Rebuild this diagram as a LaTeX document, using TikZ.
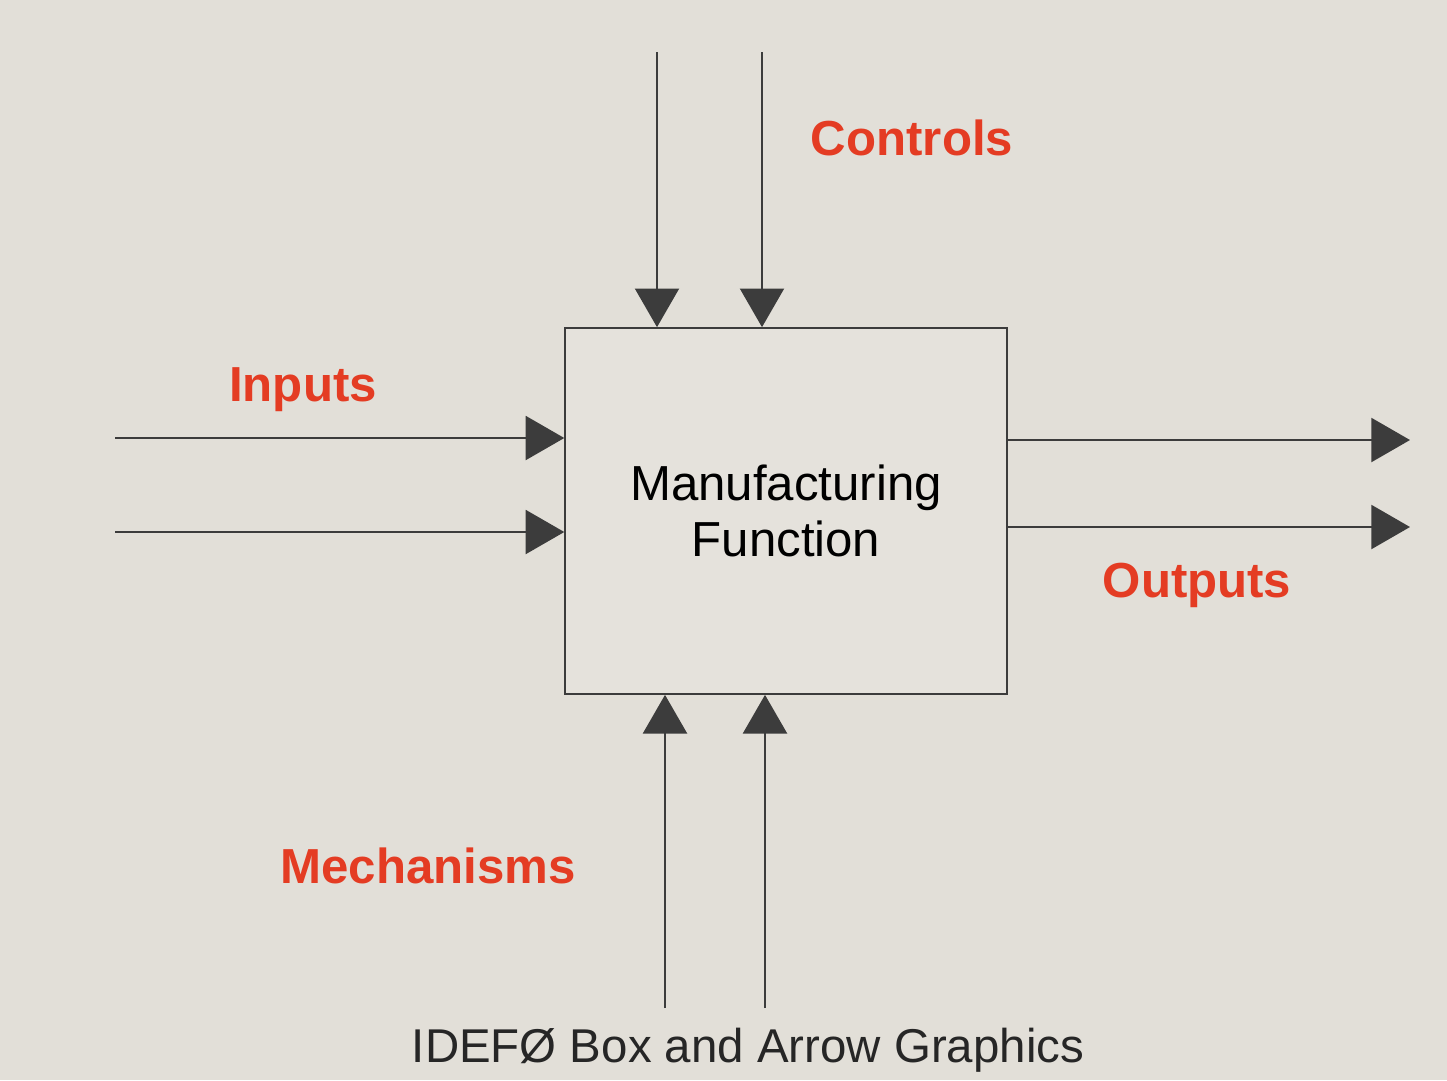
\documentclass[tikz,border=0pt]{standalone}
\usepackage{fontspec}
\setmainfont{Liberation Sans}
\usetikzlibrary{arrows.meta}
\definecolor{bg}{RGB}{226,223,216}
\definecolor{lbl}{RGB}{228,60,35}
\definecolor{ln}{RGB}{60,60,60}
\begin{document}
\begin{tikzpicture}[x=0.02cm,y=-0.02cm,
  lab/.style={text=lbl,font=\fontsize{28}{32}\selectfont\bfseries},
  arr/.style={draw=ln,line width=1.4pt,-{Triangle[length=22pt,width=25pt]}}]
\fill[bg] (0,0) rectangle (1447,1080);
\useasboundingbox (0,0) rectangle (1447,1080);
\node[draw=ln,line width=1.2pt,fill=bg!90!white,minimum width=443*0.567pt,minimum height=367*0.567pt,inner sep=0,
  align=center,font=\fontsize{28}{32}\selectfont] (box) at (786,511) {Manufacturing\\Function};
\coordinate (c1) at (657,52); \coordinate (c2) at (762,52);
\coordinate (i1) at (115,438); \coordinate (i2) at (115,532);
\coordinate (o1) at (1410,440); \coordinate (o2) at (1410,527);
\coordinate (m1) at (665,1008); \coordinate (m2) at (765,1008);
\draw[arr] (c1) -- (c1 |- box.north);
\draw[arr] (c2) -- (c2 |- box.north);
\draw[arr] (i1) -- (i1 -| box.west);
\draw[arr] (i2) -- (i2 -| box.west);
\draw[arr] (o1 -| box.east) -- (o1);
\draw[arr] (o2 -| box.east) -- (o2);
\draw[arr] (m1) -- (m1 |- box.south);
\draw[arr] (m2) -- (m2 |- box.south);
\node[lab] (lc) at (912,138) {Controls};
\node[lab] (li) at (303,390) {Inputs};
\node[lab] (lo) at (1197,585) {Outputs};
\node[lab] (lm) at (428,866) {Mechanisms};
\node[font=\fontsize{27}{32}\selectfont,text=black!85] (cap) at (748,1050) {IDEFØ Box and Arrow Graphics};
\end{tikzpicture}
\end{document}
